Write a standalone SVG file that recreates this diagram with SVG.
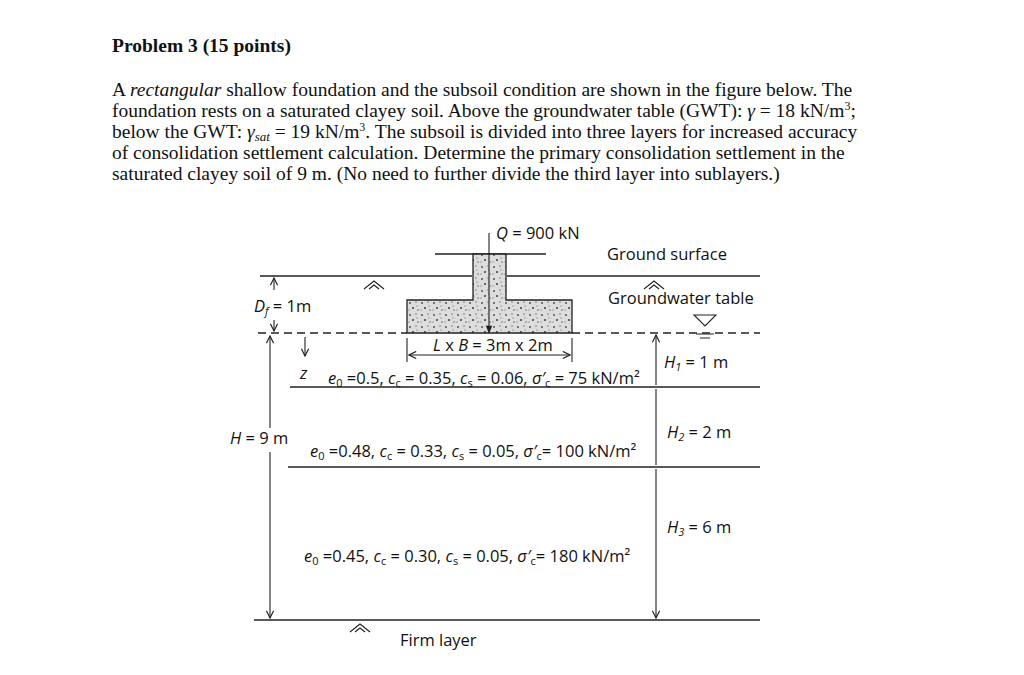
<svg xmlns="http://www.w3.org/2000/svg" width="1024" height="675" viewBox="0 0 1024 675">
<defs>
<marker id="a" viewBox="0 0 10 10" refX="9" refY="5" markerUnits="userSpaceOnUse" markerWidth="9" markerHeight="9" orient="auto-start-reverse"><path d="M1,1 L9,5 L1,9" fill="none" stroke="#222" stroke-width="1.3"/></marker>
<marker id="af" viewBox="0 0 10 10" refX="9" refY="5" markerUnits="userSpaceOnUse" markerWidth="10" markerHeight="8" orient="auto"><path d="M0,1 L10,5 L0,9z" fill="#222"/></marker>
<pattern id="conc" width="12" height="12" patternUnits="userSpaceOnUse"><rect width="12" height="12" fill="#ddd"/><circle cx="2" cy="3" r="1" fill="#555"/><circle cx="8" cy="2" r="0.8" fill="#777"/><circle cx="5" cy="8" r="1.1" fill="#444"/><circle cx="10" cy="10" r="0.8" fill="#666"/><circle cx="1" cy="10" r="0.7" fill="#888"/><circle cx="9" cy="6" r="0.6" fill="#555"/></pattern>
</defs>
<style>
.t{font-family:"Liberation Serif",serif;font-size:19.5px;fill:#111}
.s{font-family:"Open Sans","Liberation Sans",sans-serif;font-size:16.5px;fill:#111}
.l{stroke:#222;stroke-width:1.5;fill:none}
.d{stroke:#222;stroke-width:1.3;fill:none;stroke-dasharray:8,5}
.m{stroke:#222;stroke-width:1.1;fill:none}
</style>
<rect width="1024" height="675" fill="#fff"/>
<text class="t" x="112" y="52" font-weight="bold">Problem 3 (15 points)</text>
<text class="t" x="112" y="96">A <tspan font-style="italic">rectangular</tspan> shallow foundation and the subsoil condition are shown in the figure below. The</text>
<text class="t" x="112" y="117">foundation rests on a saturated clayey soil. Above the groundwater table (GWT): <tspan font-style="italic">γ</tspan> = 18 kN/m<tspan dy="-7" font-size="12">3</tspan><tspan dy="7">;</tspan></text>
<text class="t" x="112" y="138">below the GWT: <tspan font-style="italic">γ</tspan><tspan font-style="italic" font-size="13" dy="3">sat</tspan><tspan dy="-3"> = 19 kN/m</tspan><tspan dy="-7" font-size="12">3</tspan><tspan dy="7">. The subsoil is divided into three layers for increased accuracy</tspan></text>
<text class="t" x="112" y="159">of consolidation settlement calculation. Determine the primary consolidation settlement in the</text>
<text class="t" x="112" y="180">saturated clayey soil of 9 m. (No need to further divide the third layer into sublayers.)</text>

<g id="ground">
<path class="l" d="M260,276 H472 M507,276 H760 M435,254 H546"/>
<path class="m" d="M364,289 l10,-8 l10,8 M369,289 l5,-4 l5,4 M644,289 l10,-8 l10,8 M649,289 l5,-4 l5,4 M350,632 l10,-8 l10,8 M355,632 l5,-4 l5,4"/>
<text class="s" x="607" y="260">Ground surface</text>
<text class="s" x="608" y="304">Groundwater table</text>
</g>
<g id="footing">
<path d="M473,254 H506 V300 H572 V333 H407 V300 H473 Z" fill="url(#conc)" stroke="#222" stroke-width="1.3"/>
</g>
<g id="gwt">
<path class="d" d="M258,333 H407 M572,333 H760"/>
<path class="m" d="M694,315 H716 L705,326 Z M696,334 H714 M700,338 H710"/>
</g>
<g id="layers">
<path class="l" d="M290,387 H760 M288,467 H760 M254,620 H760"/>
<text class="s" x="328" y="384"><tspan font-style="italic">e</tspan><tspan font-size="11" dy="3">0</tspan><tspan dy="-3"> =0.5, </tspan><tspan font-style="italic">c</tspan><tspan font-size="11" dy="3">c</tspan><tspan dy="-3"> = 0.35, </tspan><tspan font-style="italic">c</tspan><tspan font-size="11" dy="3">s</tspan><tspan dy="-3"> = 0.06, </tspan><tspan font-style="italic">σ′</tspan><tspan font-size="11" dy="3">c</tspan><tspan dy="-3"> = 75 kN/m²</tspan></text>
<text class="s" x="310" y="457"><tspan font-style="italic">e</tspan><tspan font-size="11" dy="3">0</tspan><tspan dy="-3"> =0.48, </tspan><tspan font-style="italic">c</tspan><tspan font-size="11" dy="3">c</tspan><tspan dy="-3"> = 0.33, </tspan><tspan font-style="italic">c</tspan><tspan font-size="11" dy="3">s</tspan><tspan dy="-3"> = 0.05, </tspan><tspan font-style="italic">σ′</tspan><tspan font-size="11" dy="3">c</tspan><tspan dy="-3">= 100 kN/m²</tspan></text>
<text class="s" x="304" y="562"><tspan font-style="italic">e</tspan><tspan font-size="11" dy="3">0</tspan><tspan dy="-3"> =0.45, </tspan><tspan font-style="italic">c</tspan><tspan font-size="11" dy="3">c</tspan><tspan dy="-3"> = 0.30, </tspan><tspan font-style="italic">c</tspan><tspan font-size="11" dy="3">s</tspan><tspan dy="-3"> = 0.05, </tspan><tspan font-style="italic">σ′</tspan><tspan font-size="11" dy="3">c</tspan><tspan dy="-3">= 180 kN/m²</tspan></text>
<text class="s" x="400" y="646">Firm layer</text>
</g>
<g id="connectors">
<path class="m" d="M489,233 V333" marker-end="url(#af)"/>
<text class="s" x="496" y="239"><tspan font-style="italic">Q</tspan> = 900 kN</text>
<path class="m" d="M274,290 V278" marker-end="url(#a)"/>
<path class="m" d="M274,320 V331" marker-end="url(#a)"/>
<text class="s" x="254" y="312"><tspan font-style="italic">D</tspan><tspan font-style="italic" font-size="11" dy="3">f</tspan><tspan dy="-3"> = 1m</tspan></text>
<path class="m" d="M270,428 V336" marker-end="url(#a)"/>
<path class="m" d="M270,452 V618" marker-end="url(#a)"/>
<text class="s" x="230" y="444"><tspan font-style="italic">H</tspan> = 9 m</text>
<path class="m" d="M305,337 V356" marker-end="url(#a)"/>
<text class="s" x="300" y="379" font-style="italic">z</text>
<path class="m" d="M407,338 V362 M572,338 V362"/>
<path class="m" d="M409,355 H570" marker-start="url(#a)" marker-end="url(#a)"/>
<text class="s" x="433" y="351"><tspan font-style="italic">L</tspan> x <tspan font-style="italic">B</tspan> = 3m x 2m</text>
<path class="m" d="M656,335 V385 M656,389 V465 M656,469 V618" marker-start="url(#a)" marker-end="url(#a)"/>
<text class="s" x="664" y="368"><tspan font-style="italic">H</tspan><tspan font-style="italic" font-size="11" dy="3">1</tspan><tspan dy="-3"> = 1 m</tspan></text>
<text class="s" x="667" y="438"><tspan font-style="italic">H</tspan><tspan font-style="italic" font-size="11" dy="3">2</tspan><tspan dy="-3"> = 2 m</tspan></text>
<text class="s" x="667" y="533"><tspan font-style="italic">H</tspan><tspan font-style="italic" font-size="11" dy="3">3</tspan><tspan dy="-3"> = 6 m</tspan></text>
</g>
</svg>
